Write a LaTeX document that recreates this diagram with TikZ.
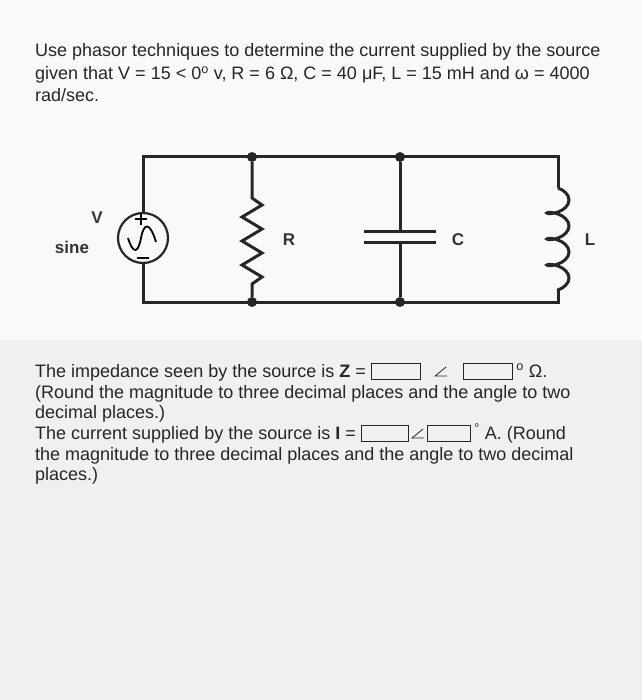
\documentclass[tikz,border=0pt]{standalone}
\usepackage{fontspec}
\setmainfont{Liberation Sans}
\usetikzlibrary{decorations.pathmorphing}
\newcommand{\ansbox}[1]{\raisebox{-2pt}{\setlength{\fboxsep}{0pt}\setlength{\fboxrule}{0.9pt}\fbox{\rule{0pt}{15pt}\hspace{#1}}}}
\newcommand{\angsym}{\raisebox{1pt}{\tikz[baseline, x=1pt, y=1pt]{\draw[line width=0.8pt] (11,9) -- (0,0) -- (12,0);}}}
\tikzset{
  txt/.style={anchor=base west, inner sep=0pt, font=\fontsize{18}{22}\selectfont, text=black!85},
  lbl/.style={font=\fontsize{17}{20}\selectfont\bfseries, text=black!80},
  wire/.style={line width=3pt, black!85},
  dot/.style={circle, fill=black!85, inner sep=0pt, minimum size=10pt}
}
\begin{document}
\begin{tikzpicture}[x=1pt,y=-1pt]
\useasboundingbox (0,0) rectangle (642,700);
\fill[gray!12] (0,0) rectangle (642,700);
\fill[gray!5] (0,0) rectangle (642,340);

% question text
\node[txt] at (35,57) {Use phasor techniques to determine the current supplied by the source};
\node[txt] at (35,80) {given that V = 15 < 0\textsuperscript{o} v,  R = 6 Ω, C = 40 μF, L = 15 mH and ω = 4000};
\node[txt] at (35,102) {rad/sec.};

% circuit
\coordinate (TR) at (558,157);
\coordinate (BR) at (558,302);
\node[dot] (RT) at (252,157) {};
\node[dot] (RB) at (252,302) {};
\node[dot] (CT) at (400,157) {};
\node[dot] (CB) at (400,302) {};
\node[circle, draw=black!85, line width=2.2pt, minimum size=50pt, inner sep=0pt] (src) at (143,238) {};
\draw[wire] (src.north) -- (143,157) -- (TR) -- (558,188);
\draw[wire] (src.south) -- (143,302) -- (BR) -- (558,290);
% source symbol
\draw[line width=1.8pt] (135,219) -- (147,219) (141,213) -- (141,225);
\draw[line width=1.8pt] (137,258) -- (149,258);
\draw[line width=1.8pt] (128,238) .. controls (133,254) and (138,254) .. (141,238) .. controls (144,222) and (150,222) .. (156,242);
% resistor
\draw[wire] (RT) -- (252,198) -- (262,205) -- (242,217) -- (262,229) -- (242,241) -- (262,253) -- (242,265) -- (262,277) -- (252,284) -- (RB);
% capacitor
\draw[wire] (CT) -- (400,232) (CB) -- (400,243);
\draw[wire] (364,232) -- (436,232) (364,243) -- (436,243);
% inductor
\draw[wire, decorate, decoration={coil, aspect=0.5, segment length=26pt, amplitude=11pt}] (558,188) -- (558,290);
% labels
\node[lbl] at (97,218) {V};
\node[lbl] at (72,247) {sine};
\node[lbl] at (289,240) {R};
\node[lbl] at (458,240) {C};
\node[lbl] at (590,240) {L};

% answer text
\node[txt] at (35,377) {The impedance seen by the source is \textbf{Z} = \ansbox{48pt}\hspace{14pt}\angsym\hspace{16pt}\ansbox{48pt}\,\textsuperscript{o} Ω.};
\node[txt] at (35,398) {(Round the magnitude to three decimal places and the angle to two};
\node[txt] at (35,418) {decimal places.)};
\node[txt] at (35,439) {The current supplied by the source is \textbf{I} = \ansbox{46pt}\,\angsym\,\ansbox{42pt}\,\textsuperscript{°} A. (Round};
\node[txt] at (35,460) {the magnitude to three decimal places and the angle to two decimal};
\node[txt] at (35,480) {places.)};
\end{tikzpicture}
\end{document}
